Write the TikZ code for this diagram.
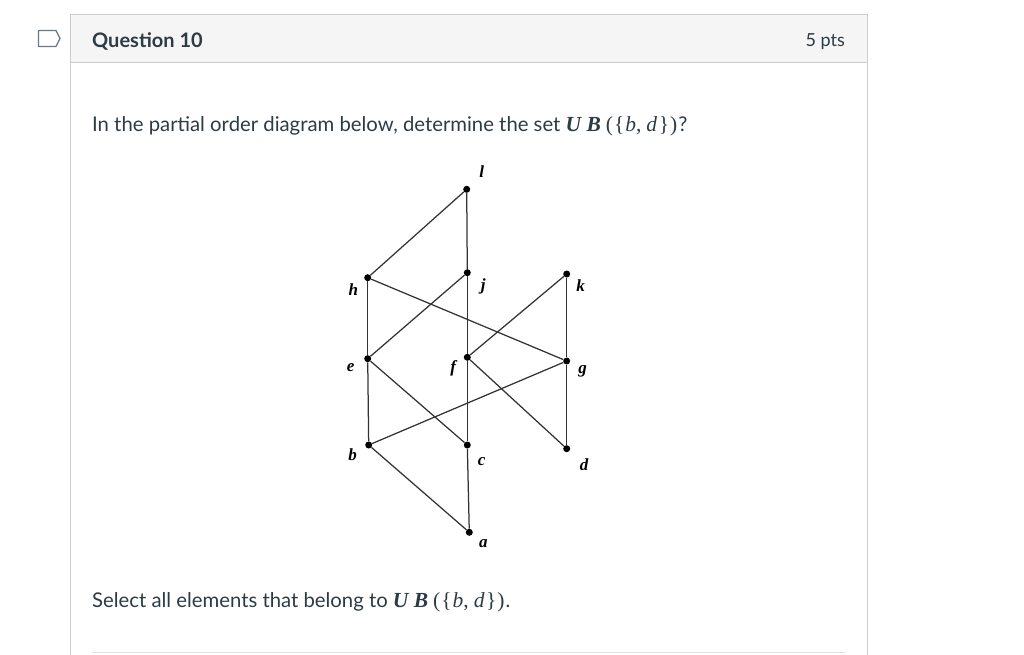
\documentclass[tikz,border=0pt]{standalone}
\usepackage{fontspec}
\setmainfont{Lato}
\newfontfamily\tnr{Liberation Serif}
\definecolor{txt}{HTML}{2D3B45}
\definecolor{bord}{HTML}{C7CDD1}
\definecolor{head}{HTML}{F5F5F5}
\definecolor{icon}{HTML}{66788A}
\definecolor{edge}{HTML}{333333}
\tikzset{
  dot/.style={circle,fill=black,inner sep=0pt,minimum size=7pt},
  lab/.style={font=\tnr\bfseries\itshape\fontsize{17}{17}\selectfont,inner sep=0pt},
  hasse/.style={draw=edge,line width=1.25pt},
  body/.style={font=\fontsize{20.3}{22}\selectfont,text=txt,inner sep=0pt,anchor=base west}
}
\newcommand{\ubm}{{\tnr\fontsize{21.5}{22}\selectfont\textbf{\textit{U}}\kern4.5pt\textbf{\textit{B}}\kern5pt(\kern1pt\{\kern1pt\textit{b},\kern5pt\textit{d}\kern1.5pt\}\kern1pt)}}
\begin{document}
\begin{tikzpicture}[x=1pt,y=-1pt]
\useasboundingbox (0,0) rectangle (1024,655);
% question box
\fill[head] (70,15) rectangle (867,63);
\draw[bord,line width=1pt] (70,655) -- (70,15) -- (867,15) -- (867,655);
\draw[bord,line width=1pt] (70,63) -- (867,63);
\draw[bord!60,line width=1pt] (92,652) -- (845,652);
% icon
\draw[icon,line width=1.2pt,line join=round] (38.5,30.5) -- (56,30.5) -- (60,38.5) -- (56,46.5) -- (38.5,46.5) -- cycle;
% header texts
\node[font=\bfseries\fontsize{20}{22}\selectfont,text=txt,inner sep=0pt,anchor=base west] (qt) at (92,48) {Question 10};
\node[font=\fontsize{18}{20}\selectfont,text=txt,inner sep=0pt,anchor=base east] (pts) at (845,47) {5 pts};
\node[body] (q) at (92,132) {In the partial order diagram below, determine the set \ubm\kern1pt?};
\node[body] (sel) at (92,607) {Select all elements that belong to \ubm\kern1pt.};
% Hasse diagram
\node[dot] (l) at (466.7,189.3) {};
\node[dot] (h) at (367.7,277.7) {};
\node[dot] (j) at (467.3,272.7) {};
\node[dot] (k) at (566.7,274) {};
\node[dot] (e) at (367.7,358.7) {};
\node[dot] (f) at (467.3,357.3) {};
\node[dot] (g) at (566.7,361) {};
\node[dot] (b) at (368.7,445) {};
\node[dot] (c) at (467.3,445) {};
\node[dot] (d) at (566.7,448.7) {};
\node[dot] (a) at (469.3,532.3) {};
\foreach \u/\v in {l/h,l/j,h/e,h/g,j/f,j/e,k/f,k/g,e/b,e/c,f/c,f/d,g/b,g/d,b/a,c/a}
  \draw[hasse] (\u) -- (\v);
\node[lab] (ll) at (481.7,171.7) {l};
\node[lab] (lh) at (353.3,289.3) {h};
\node[lab] (lj) at (483.3,286.7) {j};
\node[lab] (lk) at (580.7,286) {k};
\node[lab] (le) at (350.7,367.3) {e};
\node[lab] (lf) at (453.3,368.3) {f};
\node[lab] (lg) at (582.7,371.7) {g};
\node[lab] (lb) at (352.7,455) {b};
\node[lab] (lc) at (481.7,461.7) {c};
\node[lab] (ld) at (584,465) {d};
\node[lab] (la) at (483.3,543.3) {a};
\end{tikzpicture}
\end{document}
